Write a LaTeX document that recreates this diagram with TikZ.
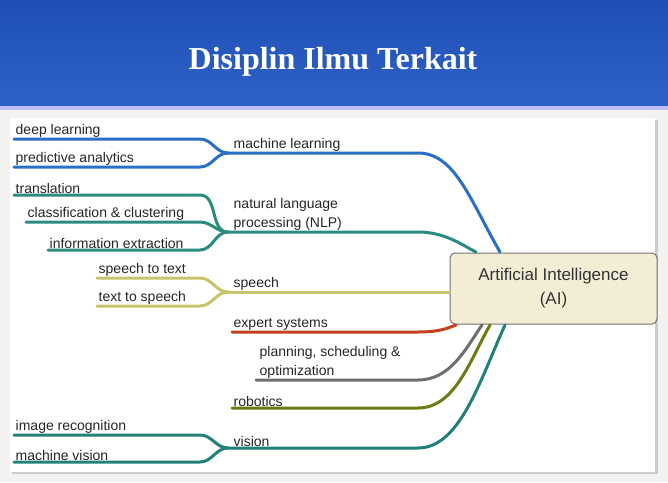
\documentclass[tikz,border=0pt]{standalone}
\usepackage{fontspec}
\setmainfont{Liberation Sans}
\newfontfamily\titlefont{Liberation Serif}
\begin{document}
\begin{tikzpicture}[x=1pt,y=-1pt,
  lbl/.style={anchor=south west,inner sep=1.5pt,font=\fontsize{14}{19}\selectfont,text=black!85},
  br/.style={line width=3pt,line cap=round}]
\definecolor{mlblue}{HTML}{2A6FC6}
\definecolor{nlpteal}{HTML}{2A8C7E}
\definecolor{spk}{HTML}{C8C46C}
\definecolor{exred}{HTML}{C4401E}
\definecolor{plgray}{HTML}{6E6E6E}
\definecolor{robol}{HTML}{6A7C12}
\definecolor{visteal}{HTML}{22807A}
\definecolor{bandtop}{HTML}{1F4FB4}
\definecolor{bandbot}{HTML}{2E62C8}
\definecolor{boxfill}{HTML}{F3EDD5}
\useasboundingbox (0,0) rectangle (668,482);
\fill[top color=bandtop,bottom color=bandbot] (0,0) rectangle (668,108);
\fill[blue!25!white] (0,106) rectangle (668,110);
\fill[yellow!6!gray!12] (0,110) rectangle (668,482);
\fill[black!20] (12,120) rectangle (658,474);
\fill[white] (10,118) rectangle (655,472);
\node (title) [text=white,font=\titlefont\bfseries\fontsize{32}{34}\selectfont] at (333,62) {Disiplin Ilmu Terkait};
% central box
\node (ai) [draw=black!55,fill=boxfill,rounded corners=5pt,line width=1pt,minimum width=207pt,minimum height=71pt,align=center,font=\fontsize{17}{24}\selectfont,text=black!80] at (553.5,288.5) {Artificial Intelligence\\(AI)};
% junctions
\coordinate (jml) at (228,153);
\coordinate (jnlp) at (228,232);
\coordinate (jsp) at (228,292);
\coordinate (jvi) at (228,448);
% leaf lines
\coordinate (dl) at (14,139); \coordinate (pa) at (14,167);
\coordinate (tr) at (14,195); \coordinate (cc) at (26,222); \coordinate (ie) at (48,250);
\coordinate (st) at (97,278); \coordinate (ts) at (97,306);
\coordinate (ir) at (14,435); \coordinate (mv) at (14,462);
\node[lbl] (tdl) at (dl) {deep learning};
\node[lbl] (tpa) at (pa) {predictive analytics};
\node[lbl] (ttr) at (tr) {translation};
\node[lbl] (tcc) at (cc) {classification \& clustering};
\node[lbl] (tie) at (ie) {information extraction};
\node[lbl] (tst) at (st) {speech to text};
\node[lbl] (tts) at (ts) {text to speech};
\node[lbl] (tir) at (ir) {image recognition};
\node[lbl] (tmv) at (mv) {machine vision};
\draw[br,mlblue] (dl) -- ++(186,0) to[out=0,in=180] (jml);
\draw[br,mlblue] (pa) -- ++(186,0) to[out=0,in=180] (jml);
\draw[br,nlpteal] (tr) -- ++(186,0) to[out=0,in=180] (jnlp);
\draw[br,nlpteal] (cc) -- ++(174,0) to[out=0,in=180] (jnlp);
\draw[br,nlpteal] (ie) -- ++(152,0) to[out=0,in=180] (jnlp);
\draw[br,spk] (st) -- ++(103,0) to[out=0,in=180] (jsp);
\draw[br,spk] (ts) -- ++(103,0) to[out=0,in=180] (jsp);
\draw[br,visteal] (ir) -- ++(186,0) to[out=0,in=180] (jvi);
\draw[br,visteal] (mv) -- ++(186,0) to[out=0,in=180] (jvi);
% main branches
\coordinate (ee) at (232,332); \coordinate (pe) at (256,380); \coordinate (re) at (232,408);
\node[lbl] (tml) at (232,153) {machine learning};
\node[lbl,align=left] (tnlp) at (232,232) {natural language\\processing (NLP)};
\node[lbl] (tsp) at (232,292) {speech};
\node[lbl] (tex) at (ee) {expert systems};
\node[lbl,align=left] (tpl) at (258,380) {planning, scheduling \&\\optimization};
\node[lbl] (tro) at (re) {robotics};
\node[lbl] (tvi) at (232,448) {vision};
\draw[br,mlblue] (jml) -- (418,153) .. controls (455,153) and (470,200) .. (500,252);
\draw[br,nlpteal] (jnlp) -- (418,232) .. controls (445,232) and (462,245) .. (476,252);
\draw[br,spk] (jsp) -- (ai.west |- jsp);
\draw[br,exred] (ee) -- (418,332) .. controls (440,332) and (448,328) .. (456,325);
\draw[br,plgray] (pe) -- (418,380) .. controls (450,380) and (465,350) .. (482,325);
\draw[br,robol] (re) -- (418,408) .. controls (455,408) and (470,360) .. (490,325);
\draw[br,visteal] (jvi) -- (418,448) .. controls (460,448) and (480,380) .. (505,325);
\end{tikzpicture}
\end{document}
